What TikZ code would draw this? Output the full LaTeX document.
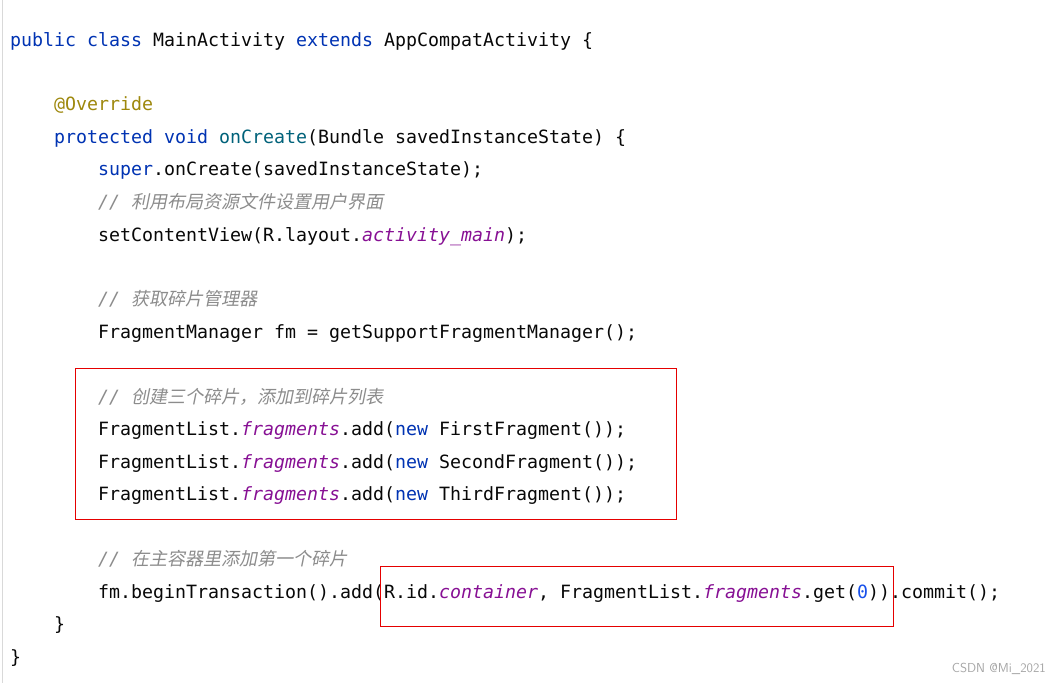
\documentclass[tikz,border=0pt]{standalone}
\usepackage{fontspec}
\setmonofont{DejaVu Sans Mono}
\newfontfamily\cjk[FakeSlant=0.2]{Noto Sans CJK SC}
\definecolor{kw}{HTML}{0033B3}
\definecolor{mt}{HTML}{00627A}
\definecolor{an}{HTML}{9E880D}
\definecolor{cm}{HTML}{8C8C8C}
\definecolor{fl}{HTML}{871094}
\definecolor{nm}{HTML}{1750EB}
\definecolor{tx}{HTML}{080808}
\newcommand{\K}[1]{\textcolor{kw}{#1}}
\newcommand{\M}[1]{\textcolor{mt}{#1}}
\newcommand{\F}[1]{\textcolor{fl}{\itshape #1}}
\newcommand{\C}[1]{\textcolor{cm}{\itshape//\ {\cjk\fontsize{18}{18}\selectfont #1}}}
\begin{document}
\begin{tikzpicture}[x=1pt,y=-1pt,
  ln/.style={anchor=base west,inner sep=0pt,text=tx,font=\ttfamily\fontsize{18.27}{20}\selectfont},
  redbox/.style={draw=red!90!black,line width=0.8pt}]
\fill[white] (0,0) rectangle (1061,683);
\useasboundingbox (0,0) rectangle (1061,683);
\draw[gray!30,line width=0.6pt] (2,0) -- (2,683);
\node[ln] (l1) at (10,46) {\K{public class} MainActivity \K{extends} AppCompatActivity \{};
\node[ln] (l2) at (54,110) {\textcolor{an}{@Override}};
\node[ln] (l3) at (54,143) {\K{protected void} \M{onCreate}(Bundle savedInstanceState) \{};
\node[ln] (l4) at (98,175) {\K{super}.onCreate(savedInstanceState);};
\node[ln] (l5) at (98,208) {\C{利用布局资源文件设置用户界面}};
\node[ln] (l6) at (98,241) {setContentView(R.layout.\F{activity\_main});};
\node[ln] (l7) at (98,305) {\C{获取碎片管理器}};
\node[ln] (l8) at (98,338) {FragmentManager fm = getSupportFragmentManager();};
\node[ln] (l9) at (98,403) {\C{创建三个碎片，添加到碎片列表}};
\node[ln] (l10) at (98,435) {FragmentList.\F{fragments}.add(\K{new} FirstFragment());};
\node[ln] (l11) at (98,468) {FragmentList.\F{fragments}.add(\K{new} SecondFragment());};
\node[ln] (l12) at (98,500) {FragmentList.\F{fragments}.add(\K{new} ThirdFragment());};
\node[ln] (l13) at (98,565) {\C{在主容器里添加第一个碎片}};
\node[ln] (l14) at (98,598) {fm.beginTransaction().add(R.id.\F{container}, FragmentList.\F{fragments}.get(\textcolor{nm}{0})).commit();};
\node[ln] (l15) at (54,630) {\}};
\node[ln] (l16) at (10,663) {\}};
\draw[redbox] (75,368) rectangle (676,519);
\draw[redbox] (380,566) rectangle (893,626);
\node[anchor=base east,inner sep=0pt,text=gray!70,font=\sffamily\fontsize{13}{13}\selectfont] (wm) at (1046,672) {CSDN @Mi\_2021};
\end{tikzpicture}
\end{document}
